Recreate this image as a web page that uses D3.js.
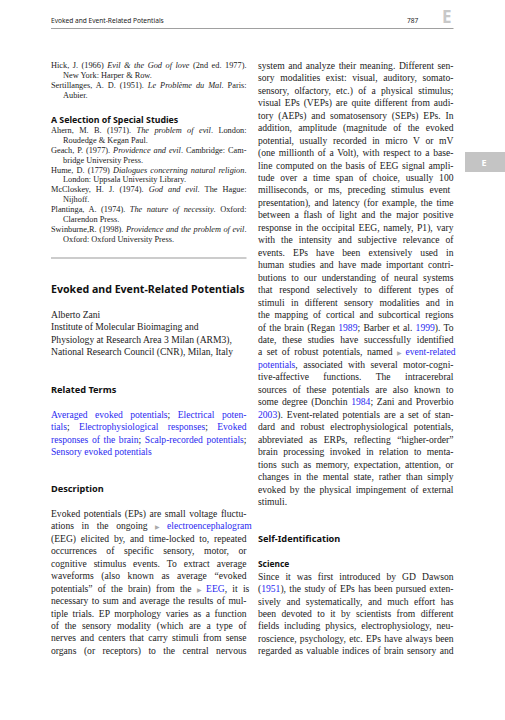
<!DOCTYPE html>
<html><head><meta charset="utf-8">
<script src="https://cdn.jsdelivr.net/npm/d3@7"></script>
<style>body{margin:0;background:#fff}svg{display:block}</style>
</head><body>
<script>
// ---- data: text lines (markup: *italic*, [link], > arrow) ----
const header = ["Evoked and Event-Related Potentials", "787", "E"];
const refs1 = [
 ["Hick, J. (1966) *Evil & the God of love* (2nd ed. 1977).",1,0],["New York: Harper & Row.",0,1],
 ["Sertillanges, A. D. (1951). *Le Problème du Mal*. Paris:",1,0],["Aubier.",0,1]];
const studiesHead = "A Selection of Special Studies";
const refs2 = [
 ["Ahern, M. B. (1971). *The problem of evil*. London:",1,0],["Roudedge & Kegan Paul.",0,1],
 ["Geach, P. (1977). *Providence and evil*. Cambridge: Cam-",1,0],["bridge University Press.",0,1],
 ["Hume, D. (1779) *Dialogues concerning natural religion*.",1,0],["London: Uppsala University Library.",0,1],
 ["McCloskey, H. J. (1974). *God and evil*. The Hague:",1,0],["Nijhoff.",0,1],
 ["Plantinga, A. (1974). *The nature of necessity*. Oxford:",1,0],["Clarendon Press.",0,1],
 ["Swinburne,R. (1998). *Providence and the problem of evil*.",1,0],["Oxford: Oxford University Press.",0,1]];
const title = "Evoked and Event-Related Potentials";
const author = [["Alberto Zani",0],["Institute of Molecular Bioimaging and",0],["Physiology at Research Area 3 Milan (ARM3),",0],["National Research Council (CNR), Milan, Italy",0]];
const relHead = "Related Terms";
const related = [["[Averaged evoked potentials]; [Electrical poten-]",1],["[tials]; [Electrophysiological responses]; [Evoked]",1],
 ["[responses of the brain]; [Scalp-recorded potentials];",1],["[Sensory evoked potentials]",0]];
const descHead = "Description";
const desc = [
 ["Evoked potentials (EPs) are small voltage fluctu-",1],["ations in the ongoing >[electroencephalogram]",1],
 ["(EEG) elicited by, and time-locked to, repeated",1],["occurrences of specific sensory, motor, or",1],
 ["cognitive stimulus events. To extract average",1],["waveforms (also known as average “evoked",1],
 ["potentials” of the brain) from the >[EEG], it is",1],["necessary to sum and average the results of mul-",1],
 ["tiple trials. EP morphology varies as a function",1],["of the sensory modality (which are a type of",1],
 ["nerves and centers that carry stimuli from sense",1],["organs (or receptors) to the central nervous",1]];
const right1 = [
 ["system and analyze their meaning. Different sen-",1],["sory modalities exist: visual, auditory, somato-",1],
 ["sensory, olfactory, etc.) of a physical stimulus;",1],["visual EPs (VEPs) are quite different from audi-",1],
 ["tory (AEPs) and somatosensory (SEPs) EPs. In",1],["addition, amplitude (magnitude of the evoked",1],
 ["potential, usually recorded in micro V or mV",1],["(one millionth of a Volt), with respect to a base-",1],
 ["line computed on the basis of EEG signal ampli-",1],["tude over a time span of choice, usually 100",1],
 ["milliseconds, or ms,  preceding stimulus event",1],["presentation), and latency (for example, the time",1],
 ["between a flash of light and the major positive",1],["response in the occipital EEG, namely, P1), vary",1],
 ["with the intensity and subjective relevance of",1],["events. EPs have been extensively used in",1],
 ["human studies and have made important contri-",1],["butions to our understanding of neural systems",1],
 ["that respond selectively to different types of",1],["stimuli in different sensory modalities and in",1],
 ["the mapping of cortical and subcortical regions",1],["of the brain (Regan [1989]; Barber et al. [1999]). To",1],
 ["date, these studies have successfully identified",1],["a set of robust potentials, named >[event-related]",1],
 ["[potentials], associated with several motor-cogni-",1],["tive-affective functions. The intracerebral",1],
 ["sources of these potentials are also known to",1],["some degree (Donchin [1984]; Zani and Proverbio",1],
 ["[2003]). Event-related potentials are a set of stan-",1],["dard and robust electrophysiological potentials,",1],
 ["abbreviated as ERPs, reflecting “higher-order”",1],["brain processing invoked in relation to menta-",1],
 ["tions such as memory, expectation, attention, or",1],["changes in the mental state, rather than simply",1],
 ["evoked by the physical impingement of external",1],["stimuli.",0]];
const selfHead = "Self-Identification", sciHead = "Science";
const right2 = [
 ["Since it was first introduced by GD Dawson",1],["([1951]), the study of EPs has been pursued exten-",1],
 ["sively and systematically, and much effort has",1],["been devoted to it by scientists from different",1],
 ["fields including physics, electrophysiology, neu-",1],["roscience, psychology, etc. EPs have always been",1],
 ["regarded as valuable indices of brain sensory and",1]];

// ---- drawing ----
const W=505,H=720, serif="Liberation Serif, Times New Roman, serif", sans="Noto Sans, Open Sans, sans-serif";
const svg=d3.select("body").append("svg").attr("width",W).attr("height",H);
const colL=d3.scaleLinear().domain([0,1]).range([51,246.5]);
const colR=d3.scaleLinear().domain([0,1]).range([258,453.5]);
const LINK="#2a2af0";

function parse(s){return s.split(/(\*[^*]+\*|\[[^\]]+\]|>)/).filter(x=>x!=="");}
function block(lines,col,y0,step,size,indent){
  const y=d3.scaleLinear().domain([0,1]).range([y0,y0+step]);
  svg.append("g").selectAll("text").data(lines).join("text")
    .attr("x",d=>col(0)+(d[2]?indent:0)).attr("y",(d,i)=>y(i)+size*0.33)
    .attr("font-family",serif).attr("font-size",size).attr("fill","#222")
    .each(function(d){
      const el=d3.select(this);
      parse(d[0]).forEach(p=>{
        const ts=el.append("tspan");
        if(p[0]==="*") ts.text(p.slice(1,-1)).attr("font-style","italic");
        else if(p[0]==="[") ts.text(p.slice(1,-1)).attr("fill",LINK);
        else if(p===">") ts.text("▶ ").attr("fill","#aaa").attr("font-size",size*0.6);
        else ts.text(p);
      });
      if(d[1]){
        const target=col(1)-col(0)-(d[2]?indent:0);
        const nat=this.getComputedTextLength();
        const spaces=(d[0].match(/ /g)||[]).length;
        if(nat<target && spaces>0) el.attr("word-spacing",(target-nat)/spaces);
        else if(nat>target) el.attr("textLength",target).attr("lengthAdjust","spacingAndGlyphs");
      }
    });
}
function head(txt,x,y,size){svg.append("text").attr("x",x).attr("y",y+size*0.36).attr("font-family",sans)
  .attr("font-weight","bold").attr("font-size",size).attr("fill","#111").text(txt);}

// header
svg.append("text").attr("x",51).attr("y",22.5).attr("font-family",sans).attr("font-size",6.6).attr("fill","#222").text(header[0]);
svg.append("text").attr("x",407).attr("y",22.5).attr("font-family",sans).attr("font-size",6.6).attr("fill","#222").text(header[1]);
svg.append("text").attr("x",442).attr("y",23).attr("font-family",sans).attr("font-weight","bold").attr("font-size",17).attr("fill","#c8c8c8").text(header[2]);
svg.append("line").attr("x1",51).attr("x2",453.5).attr("y1",28.5).attr("y2",28.5).attr("stroke","#888").attr("stroke-width",0.8);
svg.append("rect").attr("x",465).attr("y",152).attr("width",40).attr("height",20).attr("fill","#c4c4c4");
svg.append("text").attr("x",484).attr("y",166).attr("text-anchor","middle").attr("font-family",sans).attr("font-weight","bold").attr("font-size",9).attr("fill","#fff").text(header[2]);

// left column
block(refs1,colL,65.7,9.9,8.3,12);
head(studiesHead,51,119.7,8.8);
block(refs2,colL,130.3,9.88,8.3,12);
svg.append("line").attr("x1",51).attr("x2",246.5).attr("y1",258).attr("y2",258).attr("stroke","#999").attr("stroke-width",1);
head(title,51,289,10.6);
block(author,colL,314.7,12.35,9.6,0);
head(relHead,51,389.3,9.2);
block(related,colL,414.7,12.35,9.6,0);
head(descHead,51,488.3,9.2);
block(desc,colL,513.7,12.46,9.6,0);
// right column
block(right1,colR,65.7,12.46,9.6,0);
head(selfHead,258,538.3,9.2);
head(sciHead,258,563.7,8.4);
block(right2,colR,576.7,12.33,9.6,0);
</script>
</body></html>
